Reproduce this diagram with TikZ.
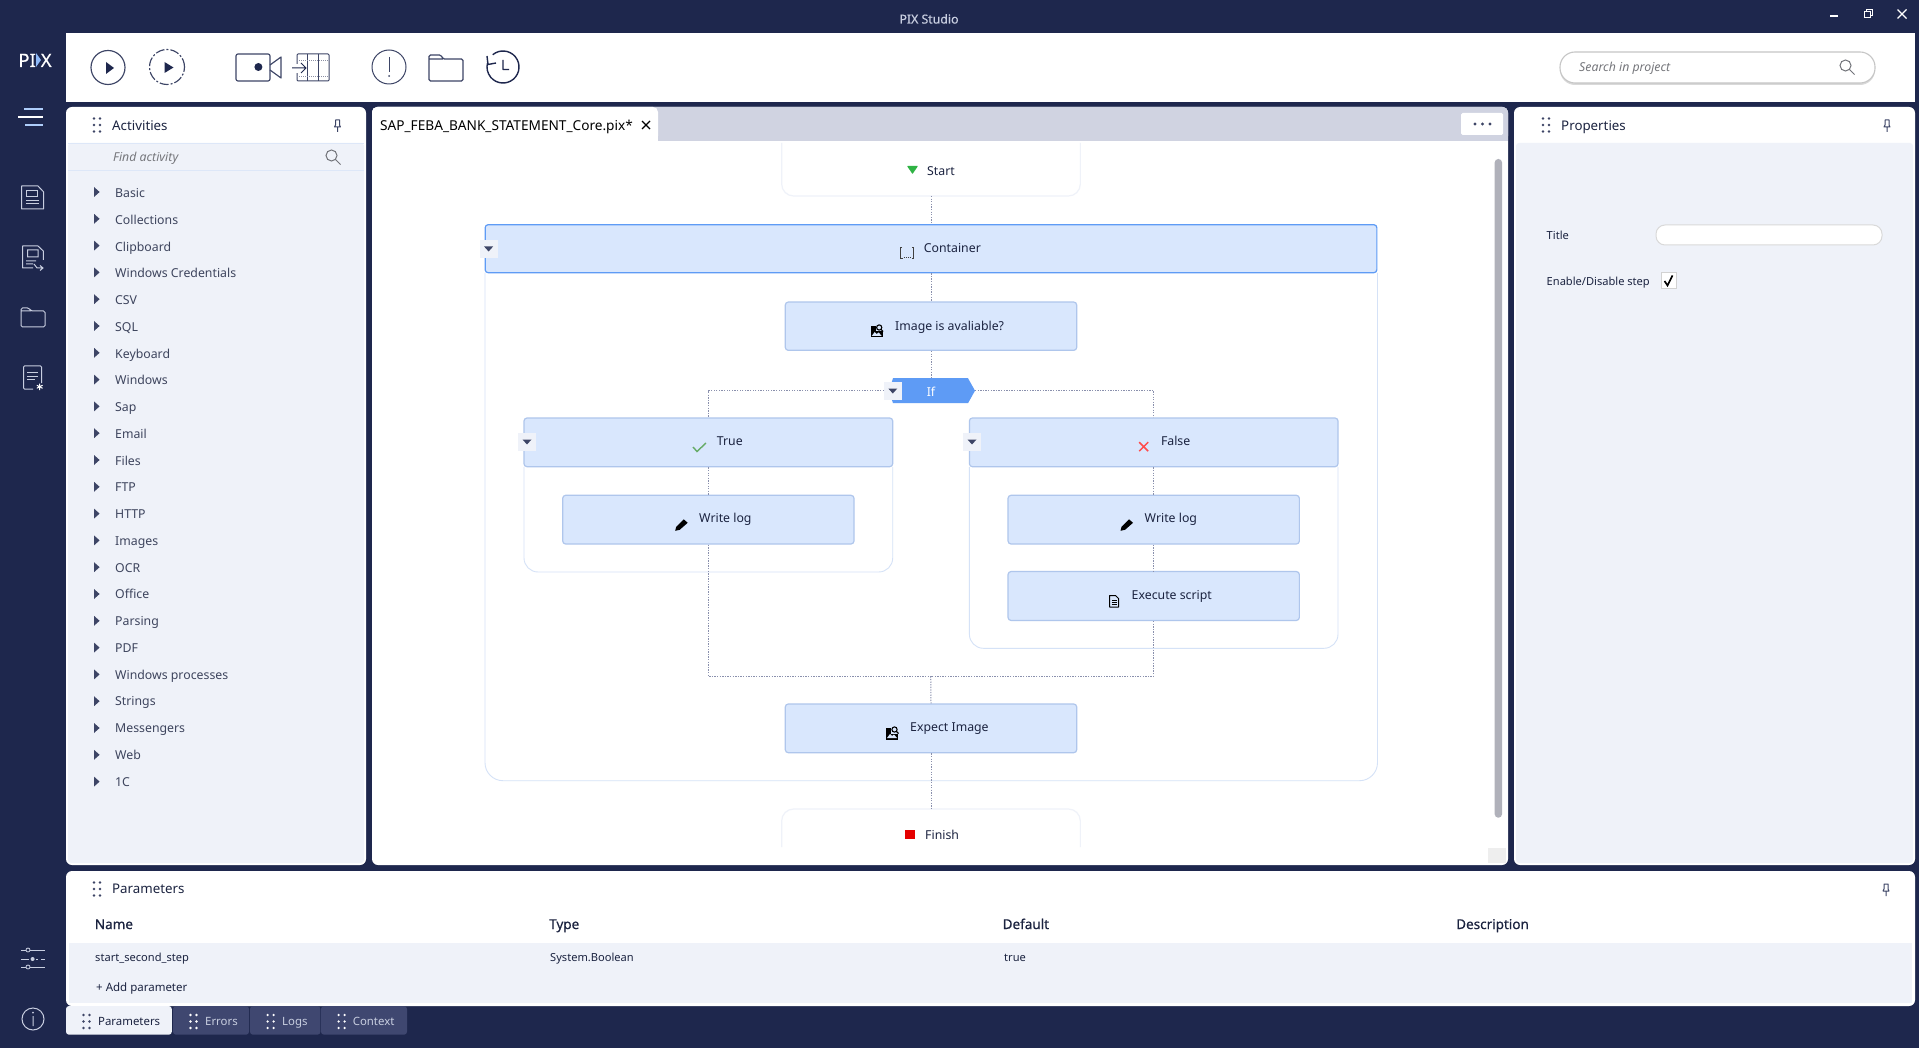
\documentclass[tikz,border=0pt]{standalone}
\usepackage{fontspec}
\setmainfont{Noto Sans}
\newfontfamily\semib[FakeBold=0.4]{Noto Sans}
\usetikzlibrary{calc}
\definecolor{navy}{HTML}{1E274D}
\definecolor{panel}{HTML}{EFF2F9}
\definecolor{ink}{HTML}{1B2340}
\definecolor{icon}{HTML}{3D4566}
\definecolor{boxfill}{HTML}{D9E7FD}
\definecolor{boxedge}{HTML}{AFC6EC}
\definecolor{accent}{HTML}{5E9BF5}
\definecolor{bodyedge}{HTML}{D5E2F7}
\definecolor{tabbar}{HTML}{D0D3E1}
\definecolor{tabdark}{HTML}{3F4770}
\definecolor{side}{HTML}{C8CEE0}
\definecolor{dotline}{HTML}{8A90AD}
\definecolor{startgreen}{HTML}{2FB344}
\newcommand{\ui}{\fontsize{12.3}{15}\selectfont}
\newcommand{\uihead}{\fontsize{13.3}{15}\selectfont}
\newcommand{\uismall}{\fontsize{11.1}{14}\selectfont}
\newcommand{\uitab}{\fontsize{11.4}{14}\selectfont}
\tikzset{
  txt/.style={anchor=west,inner sep=0pt,text height=14pt,text depth=3pt,font=\ui,text=ink},
  small/.style={txt,text height=9pt,font=\uismall},
  head/.style={txt,font=\uihead},
  colhead/.style={txt,text height=9pt,font=\semib\fontsize{13.5}{15}\selectfont},
  tabtxt/.style={txt,text height=9pt,font=\uitab},
  place/.style={txt,text=gray!85!icon,font=\ui\itshape},
  flowbox/.style={draw=boxedge,fill=boxfill,line width=1.2pt,rounded corners=3pt,inner sep=0pt},
  slot/.style={inner sep=0pt,outer sep=0pt},
  bodyline/.style={draw=bodyedge,line width=.9pt,fill=white},
  flow/.style={draw=dotline,line width=1pt,dash pattern=on 1.3pt off 1.3pt},
  tool/.style={draw=icon,line width=1.15pt},
  sidei/.style={draw=side,line width=1pt},
  grip/.pic={\foreach \a in {-3,3} \foreach \b in {-6.5,0,6.5} \fill[pic actions] (\a,\b) circle (1.3pt);},
  pin/.pic={\draw[icon,line width=1pt,line join=round] (-2,-6)--(2,-6)--(2,-1)--(3,1)--(-3,1)--(-2,-1)--cycle (0,1)--(0,6);},
  lens/.pic={\draw[gray!80!icon,line width=1pt] (-1.5,-1.5) circle (5.5pt) (2.5,2.5)--(7.5,7.5);},
  drop/.pic={\fill[panel] (-9,-9) rectangle (9,9); \fill[icon] (-4.5,-2.5)--(4.5,-2.5)--(0,2.5)--cycle;},
  imgicon/.pic={\fill[black] (-6,-5) rectangle (6,6.5);
    \fill[boxfill] (-1,-7) rectangle (7,0.5);
    \fill[boxfill] (-5,5)--(-2,1)--(0,3)--(2,1.5)--(5,5)--cycle;
    \draw[black,line width=1.1pt] (2.5,-3.5) circle (2.6pt) (4.5,-1.5)--(6.5,0.5);},
  pencil/.pic={\fill[black] (-6.5,6.5)--(-5.5,2.5)--(2,-5)--(6,-1.5)--(-2,5.5)--cycle;},
  folderi/.pic={\draw[pic actions,rounded corners=1.5pt] (0,26)--(0,0)--(12,0)--(14,4)--(34,4)--(34,26)--cycle (0,4)--(14,4);},
}
\begin{document}
\begin{tikzpicture}[x=1pt,y=-1pt]
\useasboundingbox (0,0) rectangle (1919,1048);
\fill[navy] (0,0) rectangle (1919,1048);
% title bar
\node[txt,anchor=center,text=side,font=\semib\ui] (title) at (929,18) {PIX Studio};
\fill[white] (1830,15) rectangle (1838,17.5);
\draw[white,line width=1pt] (1864.5,11.5) rectangle (1870.5,17.5) (1866.5,11.5)--(1866.5,9.5)--(1872.5,9.5)--(1872.5,15.5)--(1870.5,15.5);
\draw[white,line width=1.2pt] (1897.5,9.5)--(1906.5,18.5) (1906.5,9.5)--(1897.5,18.5);
% toolbar
\fill[white] (66,33) rectangle (1915,102);
\draw[tool] (108,67.5) circle (17pt);
\fill[navy] (106,62)--(114,68)--(106,74)--cycle;
\draw[tool,dash pattern=on 9pt off 2pt on 2pt off 2pt] (167,67) circle (17.5pt);
\fill[navy] (164.5,62)--(173.5,67.5)--(164.5,73)--cycle;
\draw[tool,rounded corners=2pt] (236,54) rectangle (270,81);
\fill[navy] (258.4,67) circle (4pt);
\draw[tool,line join=round] (270,65)--(281,57)--(281,78)--(270,70);
\draw[tool,line width=1pt,rounded corners=1pt] (297,54) rectangle (329,81);
\draw[tool,line width=1pt] (307.8,54)--(307.8,81) (318.4,54)--(318.4,81);
\draw[icon!60,line width=.8pt,dash pattern=on 1pt off 1pt] (297,60)--(329,60) (297,76)--(329,76);
\draw[fill=white,draw=white] (290,64) rectangle (306,72);
\draw[navy,line width=1pt] (292,68)--(306,68) (301,63)--(306,68)--(301,73);
\draw[tool,line width=1pt] (389,67) circle (17pt);
\draw[icon,line width=1pt] (389,57)--(389,72);
\fill[icon] (389,76) circle (1pt);
\pic[draw=icon,line width=1.2pt] at (429,55) {folderi};
\draw[navy,line width=1.4pt] (503,67) ++(130:16pt) arc[start angle=130,end angle=-195,radius=16pt];
\draw[navy,line width=1.4pt,line join=round] (487,56)--(488,64.5)--(496,63) (503,60)--(503,69.5)--(509,69.5);
% search
\fill[gray!30,rounded corners=15pt] (1560,54) rectangle (1875,85);
\draw[fill=white,draw=gray!45,line width=1.1pt,rounded corners=15pt] (1560,52) rectangle (1875,83);
\node[place] (searchtxt) at (1579,66) {Search in project};
\pic at (1847,67) {lens};
% logo and sidebar
\node[txt,anchor=center,text=white,font=\semib\fontsize{18.5}{22}\selectfont,text height=14pt,text depth=0pt] (logo) at (35,60) {PI\kern5pt X};
\fill[accent!70!white] (36,53)--(41,60)--(36,67)--cycle;
\draw[accent!50!white,line width=1.4pt] (24,109)--(43,109) (25,125)--(43,125);
\draw[white,line width=1.4pt] (18,117)--(43,117);
\draw[sidei,line join=round] (21.7,186)--(38,186)--(43.7,192)--(43.7,209)--(21.7,209)--cycle;
\draw[sidei] (26.7,190.7) rectangle (37,197) (26,200.7)--(39,200.7) (26,203.7)--(39,203.7);
\draw[sidei,line join=round] (33,268)--(22.7,268)--(22.7,246)--(38,246)--(43.3,251)--(43.3,260);
\draw[sidei] (27.5,250) rectangle (38,257) (26,261)--(36,261) (26,264)--(33,264) (34,264)--(37,268)--(43,268) (40,265.5)--(43,268)--(40,270.5);
\draw[sidei,rounded corners=1.5pt] (21,327)--(21,308)--(29,308)--(31,311)--(45,311)--(45,327)--cycle (21,311)--(31,311);
\draw[sidei,line join=round,rounded corners=1pt] (33,389)--(23.5,389)--(23.5,366)--(41.5,366)--(41.5,383);
\draw[side,line width=1.2pt] (27,372.7)--(38,372.7) (27,376.2)--(38,376.2) (27,379.7)--(35,379.7);
\draw[white,line width=1pt] (39.7,383.5)--(39.7,390) (36.8,385.2)--(42.6,388.3) (36.8,388.3)--(42.6,385.2);
\draw[sidei] (21,950)--(45,950) (21,959)--(29,959) (36,959)--(38,959) (41,959)--(45,959) (21,967)--(45,967);
\fill[navy,draw=side,line width=.8pt] (28,950) circle (2pt) (28,967) circle (2pt);
\fill[side] (32.6,959) circle (2pt);
\draw[sidei] (33,1019) circle (11pt) (33,1016)--(33,1026);
\fill[side] (33,1012.5) circle (1pt);
% activities panel
\fill[white,rounded corners=6pt] (66,107) rectangle (366,865);
\fill[panel,rounded corners=3pt] (68,143) rectangle (364,863);
\draw[bodyedge!70!panel,line width=.8pt] (68,143)--(364,143) (68,170.7)--(364,170.7);
\pic[fill=icon] at (97,125) {grip};
\node[head] (acttitle) at (112,125) {Activities};
\pic at (337.5,126) {pin};
\node[place] (findtxt) at (113,156) {Find activity};
\pic at (333,157) {lens};
\foreach \t [count=\i] in {Basic,Collections,Clipboard,Windows Credentials,CSV,SQL,Keyboard,Windows,Sap,Email,Files,FTP,HTTP,Images,OCR,Office,Parsing,PDF,Windows processes,Strings,Messengers,Web,1C}{
  \node[txt,text=ink!85] (tree\i) at (115,{192+(\i-1)*26.76}) {\t};
  \fill[icon] (94,{187+(\i-1)*26.8})--(99.6,{192+(\i-1)*26.8})--(94,{197+(\i-1)*26.8})--cycle;
}
% centre panel
\fill[white,rounded corners=6pt] (372,107) rectangle (1508,865);
\fill[tabbar,rounded corners=5pt] (372,107) rectangle (1508,141);
\fill[tabbar] (372,125) rectangle (1508,141);
\fill[white,rounded corners=5pt] (372,107) rectangle (658,141);
\fill[white] (372,125) rectangle (658,141);
\node[txt,text=black,font=\fontsize{13.65}{15}\selectfont] (tabname) at (380,125) {SAP\_FEBA\_BANK\_STATEMENT\_Core.pix*};
\draw[black,line width=1.2pt] (642,121)--(650,129) (650,121)--(642,129);
\fill[white,rounded corners=1.5pt] (1461,113) rectangle (1503,135);
\fill[icon] (1475,124) circle (1.7pt) (1482.5,124) circle (1.7pt) (1490,124) circle (1.7pt);
\fill[gray!40!tabbar,rounded corners=3.5pt] (1494.7,159) rectangle (1502,817.7);
\fill[gray!13] (1488,848) rectangle (1506,862.7);
% flow bodies
\node[slot,minimum width=892.5pt,minimum height=507.7pt] (contbody) at (931.25,526.85) {};
\node[slot,minimum width=368.7pt,minimum height=105pt] (truebody) at (708.35,519.5) {};
\node[slot,minimum width=368.6pt,minimum height=181.3pt] (falsebody) at (1153.7,557.65) {};
\node[slot,minimum width=298.7pt,minimum height=53pt] (start) at (931,169.5) {};
\node[slot,minimum width=298.7pt,minimum height=38pt] (finish) at (931,828) {};
\draw[bodyline,rounded corners=18pt] (contbody.north west)--(contbody.south west)--(contbody.south east)--(contbody.north east);
\draw[bodyline,rounded corners=14pt] (truebody.north west)--(truebody.south west)--(truebody.south east)--(truebody.north east);
\draw[bodyline,rounded corners=14pt] (falsebody.north west)--(falsebody.south west)--(falsebody.south east)--(falsebody.north east);
\draw[draw=panel,line width=1.2pt,rounded corners=12pt] (start.north west)--(start.south west)--(start.south east)--(start.north east);
\draw[draw=panel,line width=1.2pt,rounded corners=12pt] (finish.south west)--(finish.north west)--(finish.north east)--(finish.south east);
% flow nodes
\node[flowbox,draw=accent,minimum width=891.7pt,minimum height=48pt] (cont) at (931,248.7) {};
\node[flowbox,minimum width=291.4pt,minimum height=48.3pt] (img) at (931,326.2) {};
\node[slot,minimum width=86pt,minimum height=25pt] (ifn) at (932,390.7) {};
\node[flowbox,minimum width=368.7pt,minimum height=48.7pt] (true) at (708.35,442.35) {};
\node[flowbox,minimum width=368.6pt,minimum height=48.7pt] (false) at (1153.7,442.35) {};
\node[flowbox,minimum width=291.3pt,minimum height=48.7pt] (wla) at (708.35,519.65) {};
\node[flowbox,minimum width=291.3pt,minimum height=48.7pt] (wlb) at (1153.7,519.65) {};
\node[flowbox,minimum width=291.3pt,minimum height=48.9pt] (exec) at (1153.7,596) {};
\node[flowbox,minimum width=291.4pt,minimum height=48.7pt] (expect) at (931,728.35) {};
\coordinate (mj) at (930.7,676.3);
% connectors
\draw[flow] (start.south)--(cont.north);
\draw[flow] (cont.south)--(img.north);
\draw[flow] (img.south)--(img.south |- ifn.north);
\draw[flow] (ifn.west)-|(true.north);
\draw[flow] (ifn.east)-|(false.north);
\draw[flow] (true.south)--(wla.north);
\draw[flow] (false.south)--(wlb.north);
\draw[flow] (wlb.south)--(exec.north);
\draw[flow] (wla.south)|-(mj);
\draw[flow] (exec.south)|-(mj);
\draw[flow] (mj)--(expect.north);
\draw[flow] (expect.south)--(finish.north);
% if shape
\fill[accent] (ifn.west)--(893,378.2)--(968,378.2)--(ifn.east)--(968,403.2)--(893,403.2)--cycle;
\node[txt,anchor=center,text=white] (iftxt) at (931,391) {If};
% dropdowns
\pic at (488.6,249) {drop};
\pic at (892.8,391) {drop};
\pic at (527,442) {drop};
\pic at (972,442) {drop};
% flow labels and icons
\fill[startgreen,rounded corners=.5pt] (907,166)--(918,166)--(912.5,174)--cycle;
\node[txt] (starttxt) at (927,170) {Start};
\draw[black!75,line width=1.2pt] (902,247.5)--(900.5,247.5)--(900.5,258.5)--(902.5,258.5) (912,247.5)--(913.7,247.5)--(913.7,258.5)--(911.7,258.5);
\draw[black!75,line width=1pt,dash pattern=on 1pt off 1pt] (903.5,257.5)--(911,257.5);
\node[txt] (conttxt) at (923.7,247) {Container};
\pic at (876.7,331) {imgicon};
\node[txt] (imgtxt) at (895,324.7) {Image is avaliable?};
\draw[green!45!black!60!white,line width=1.4pt] (693,447)--(697,451.5)--(706,443);
\node[txt] (truetxt) at (716.7,440) {True};
\draw[red!70!white,line width=1.5pt] (1139.2,442.2)--(1148.2,451.2) (1148.2,442.2)--(1139.2,451.2);
\node[txt] (falsetxt) at (1160.8,440) {False};
\pic at (681.7,524.3) {pencil};
\node[txt] (wlatxt) at (699,517) {Write log};
\pic at (1127,524.3) {pencil};
\node[txt] (wlbtxt) at (1144.5,517) {Write log};
\draw[black,line width=1pt,line join=round] (1109.5,595.5)--(1115.5,595.5)--(1118.5,598.5)--(1118.5,607)--(1109.5,607)--cycle;
\draw[black,line width=1pt] (1111.5,600)--(1116.5,600) (1111.5,602)--(1116.5,602) (1111.5,604)--(1116.5,604);
\node[txt] (exectxt) at (1131.5,594) {Execute script};
\pic at (892,733) {imgicon};
\node[txt] (expecttxt) at (910,725.7) {Expect Image};
\fill[red!90!black] (905,829.7) rectangle (915,839);
\node[txt] (finishtxt) at (925,834.2) {Finish};
% properties panel
\fill[white,rounded corners=6pt] (1514,107) rectangle (1915,865);
\fill[panel,rounded corners=3pt] (1516,143) rectangle (1913,863);
\pic[fill=icon] at (1546,125) {grip};
\node[head] (proptitle) at (1561,125) {Properties};
\pic at (1887,126) {pin};
\node[small] (titlelab) at (1546.5,236.9) {Title};
\draw[fill=white,draw=gray!30,line width=1pt,rounded corners=9pt] (1656,225) rectangle (1882,245);
\node[small] (enablelab) at (1546.5,282.9) {Enable/Disable step};
\draw[fill=white,draw=gray!35,line width=1pt] (1661,273) rectangle (1676,289);
\draw[black,line width=1.7pt] (1664.5,281)--(1667.5,285.5)--(1672.5,275.5);
% parameters panel
\fill[white,rounded corners=6pt] (66,871) rectangle (1915,1006);
\fill[panel] (69,943) rectangle (1912,1003);
\pic[fill=icon] at (97,889) {grip};
\node[head] (paramtitle) at (112,887.5) {Parameters};
\pic at (1886,890) {pin};
\node[colhead] (hname) at (94.7,926) {Name};
\node[colhead] (htype) at (549,926) {Type};
\node[colhead] (hdefault) at (1002.5,926) {Default};
\node[colhead] (hdesc) at (1456,926) {Description};
\node[small] (pname) at (95,958) {start\_second\_step};
\node[small] (ptype) at (550,958) {System.Boolean};
\node[small] (pdefault) at (1004,958) {true};
\node[small,font=\fontsize{11.5}{14}\selectfont] (padd) at (96,988) {+ Add parameter};
% bottom tabs
\fill[panel,rounded corners=3pt] (66,1006) rectangle (171.8,1034.7);
\fill[tabdark,rounded corners=3pt] (173,1006) rectangle (249,1034.7);
\fill[tabdark,rounded corners=3pt] (250,1006) rectangle (320.4,1034.7);
\fill[tabdark,rounded corners=3pt] (321,1006) rectangle (407,1034.7);
\pic[fill=icon] at (86.5,1021.5) {grip};
\pic[fill=white] at (193.5,1021.5) {grip};
\pic[fill=white] at (270.6,1021.5) {grip};
\pic[fill=white] at (341.6,1021.5) {grip};
\node[tabtxt] (tabp) at (98,1022) {Parameters};
\node[tabtxt,text=side] (tabe) at (205,1022) {Errors};
\node[tabtxt,text=side] (tabl) at (282,1022) {Logs};
\node[tabtxt,text=side] (tabc) at (352.6,1022) {Context};
\end{tikzpicture}
\end{document}
